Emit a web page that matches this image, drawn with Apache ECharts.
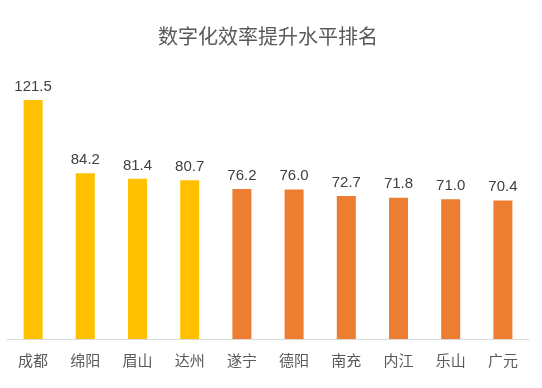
<!DOCTYPE html>
<html><head><meta charset="utf-8">
<script src="https://cdn.jsdelivr.net/npm/echarts@6/dist/echarts.min.js"></script>
<style>html,body{margin:0;padding:0;background:#fff}#c{width:542px;height:388px}</style>
</head><body><div id="c"></div>
<script>
var categories = ['成都','绵阳','眉山','达州','遂宁','德阳','南充','内江','乐山','广元'];
var values = [121.5,84.2,81.4,80.7,76.2,76.0,72.7,71.8,71.0,70.4];
var colors = ['#FFC000','#FFC000','#FFC000','#FFC000','#ED7D31','#ED7D31','#ED7D31','#ED7D31','#ED7D31','#ED7D31'];
var chart = echarts.init(document.getElementById('c'));
chart.setOption({
  animation:false,
  title:{text:'数字化效率提升水平排名',left:153,top:21,textStyle:{fontFamily:'Noto Sans CJK SC',fontSize:20,fontWeight:'normal',color:'#595959'}},
  grid:{left:7,width:522,top:63.6,bottom:49},
  xAxis:{type:'category',data:categories,axisTick:{show:false},
    axisLine:{lineStyle:{color:'#D9D9D9'}},
    axisLabel:{fontFamily:'Noto Sans CJK SC',fontSize:15,color:'#595959',margin:14}},
  yAxis:{type:'value',min:0,max:140,show:false,splitLine:{show:false}},
  series:[{type:'bar',barWidth:19,
    data:values.map(function(v,i){return {value:v,itemStyle:{color:colors[i]}};}),
    label:{show:true,position:'top',distance:6,fontFamily:'Liberation Sans',fontSize:15,color:'#404040',formatter:function(p){return p.value.toFixed(1);}}}]
});
</script></body></html>
